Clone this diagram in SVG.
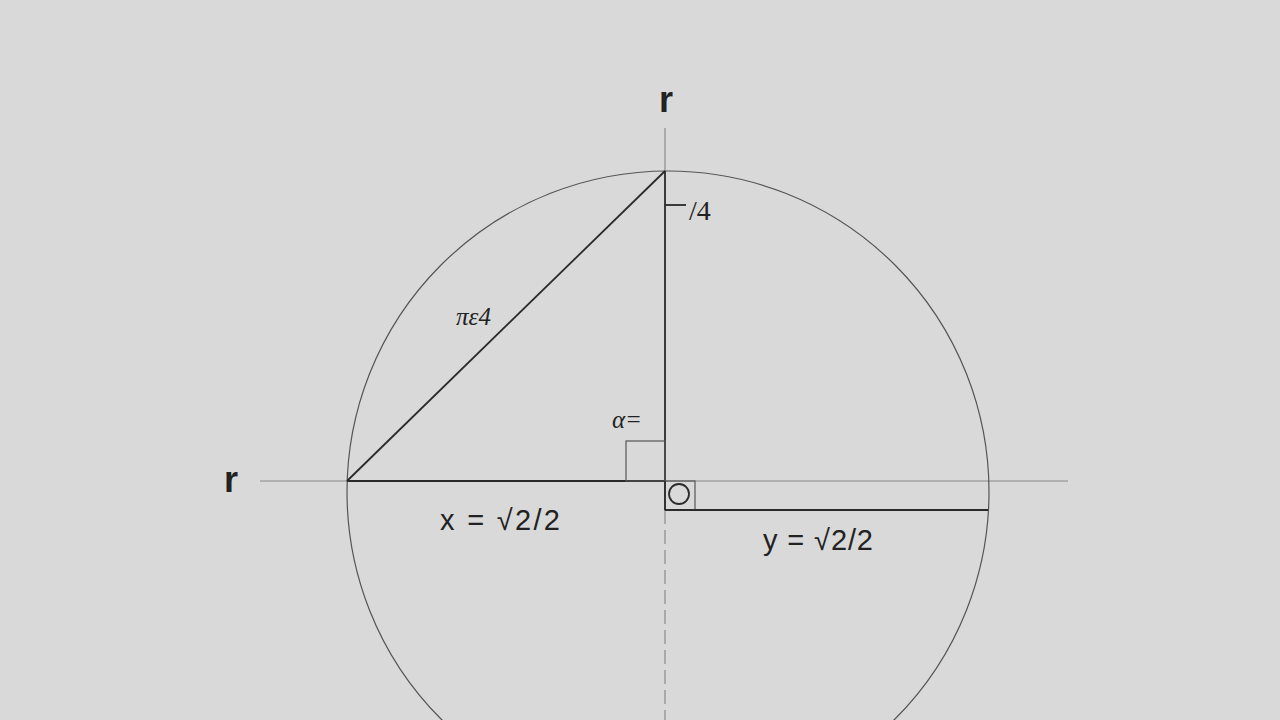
<svg xmlns="http://www.w3.org/2000/svg" width="1280" height="720" viewBox="0 0 1280 720">
<style>
.axis{stroke:#8a8a8a;stroke-width:1.2;fill:none}
.ln{stroke:#2a2a2a;stroke-width:1.8;fill:none}
.thin{stroke:#555;stroke-width:1.2;fill:none}
.lbl{font-family:"Liberation Sans",Arial,sans-serif;fill:#222}
.srf{font-family:"Liberation Serif","DejaVu Serif",serif;fill:#222}
</style>
<rect width="1280" height="720" fill="#d9d9d9"/>
<g id="axes">
<line class="axis" x1="260" y1="481" x2="1068" y2="481"/>
<line class="axis" x1="665" y1="128" x2="665" y2="171"/>
<line class="axis" x1="665" y1="510" x2="665" y2="720" stroke-dasharray="14,6"/>
</g>
<g id="circle"><ellipse class="thin" cx="668" cy="492" rx="321" ry="321"/></g>
<g id="connectors">
<line class="ln" x1="347" y1="481" x2="665" y2="171"/>
<line class="ln" x1="665" y1="171" x2="665" y2="481"/>
<line class="ln" x1="347" y1="481" x2="665" y2="481"/>
<line class="ln" x1="665" y1="205" x2="686" y2="205"/>
<rect class="thin" x="626" y="441" width="39" height="40"/>
<rect class="thin" x="665" y="481" width="30" height="29"/>
<circle class="ln" cx="679" cy="494" r="10"/>
<line class="ln" x1="665" y1="510" x2="988" y2="510" stroke-width="1.4"/>
<line class="ln" x1="665" y1="481" x2="665" y2="510" stroke-width="1.4"/>
</g>
<g id="labels">
<text class="lbl" x="666" y="112" font-size="36" font-weight="bold" text-anchor="middle">r</text>
<text class="lbl" x="231" y="492" font-size="36" font-weight="bold" text-anchor="middle">r</text>
<text class="srf" x="689" y="220" font-size="28">/4</text>
<text class="srf" x="456" y="325" font-size="25" font-style="italic">πε4</text>
<text class="srf" x="612" y="428" font-size="25" font-style="italic">α=</text>
<text class="lbl" x="440" y="530" font-size="29" textLength="120" lengthAdjust="spacing">x = √2/2</text>
<text class="lbl" x="763" y="550" font-size="29" textLength="110" lengthAdjust="spacing">y = √2/2</text>
</g>
</svg>
